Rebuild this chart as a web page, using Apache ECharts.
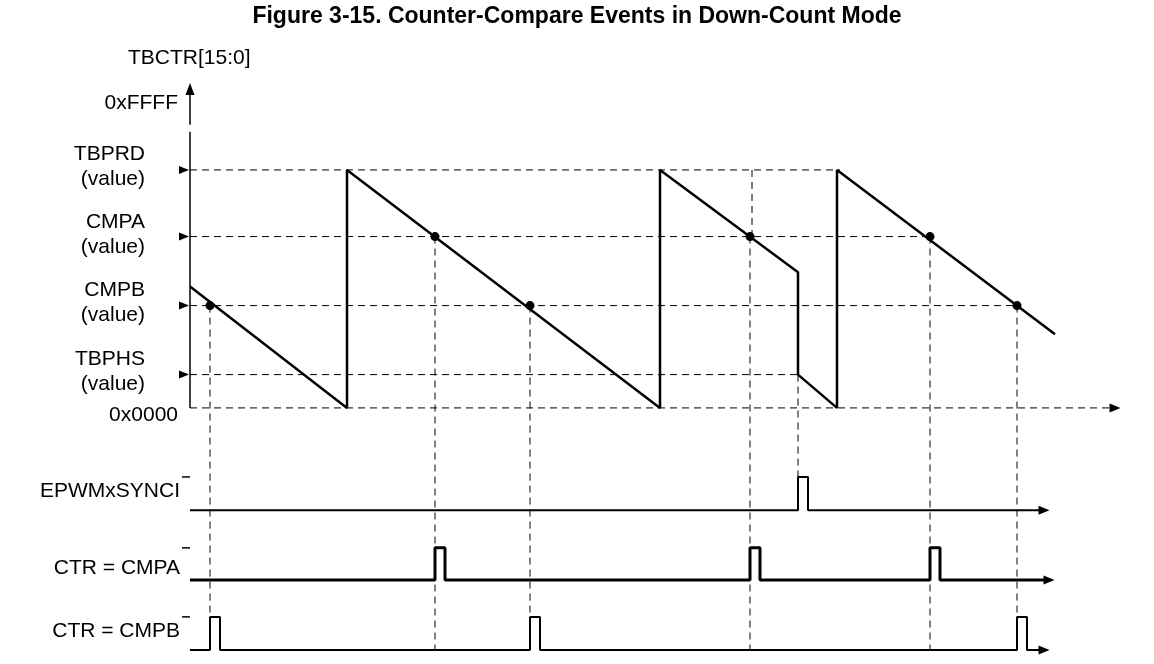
<!DOCTYPE html>
<html><head><meta charset="utf-8">
<script src="https://cdn.jsdelivr.net/npm/echarts@6/dist/echarts.min.js"></script>
<style>html,body{margin:0;background:#fff}#c{width:1154px;height:664px}</style>
</head><body><div id="c"></div>
<script>
// counter levels (TBPRD = 100)
var levelNames = ['TBPRD', 'CMPA', 'CMPB', 'TBPHS'];
var levelValues = [100, 72, 43, 14];
var levelEnds = [840, 930, 1017, 800];
// counter waveform [time, count]
var counter = [[190, 51], [347, 0], [347, 100], [660, 0], [660, 100], [798, 57], [798, 14], [837, 0], [837, 100], [1055, 31]];
// compare events
var cmpaTimes = [435, 750, 930];
var cmpbTimes = [210, 530, 1017];
var syncTimes = [798];
// pulse rows: base / high
var rowNames = ['EPWMxSYNCI', 'CTR = CMPA', 'CTR = CMPB'];
var rowBase = [-43, -72.3, -101.7];
var rowHigh = [-29, -58.8, -87.8];
var rowEnd = [1040, 1045, 1040];
var rowWidth = [2, 3, 2];
var pulseLen = 10;

function pulses(times, base, high, end) {
  var d = [[190, base]];
  times.forEach(function (t) { d.push([t, base], [t, high], [t + pulseLen, high], [t + pulseLen, base]); });
  d.push([end, base]);
  return d;
}
var series = [];
function line(data, w, dash) {
  series.push({ type: 'line', data: data, symbol: 'none', animation: false, silent: true,
    lineStyle: { color: '#000', width: w, opacity: 1, type: dash ? [7, 5] : 'solid' } });
}
function arrows(data, rot, size) {
  series.push({ type: 'scatter', data: data, symbol: 'triangle', symbolRotate: rot,
    symbolSize: size || [9, 11], itemStyle: { color: '#000', opacity: 1 }, animation: false, silent: true });
}
// dashed level lines
levelValues.forEach(function (v, i) { line([[190, v], [levelEnds[i], v]], 1, true); });
line([[190, 0], [1110, 0]], 1, true);
arrows([[1115, 0]], -90);
arrows(levelValues.map(function (v) { return [184, v]; }), -90, [8, 10]);
// vertical dashed guides
var guides = cmpaTimes.concat(cmpbTimes);
guides.forEach(function (t, i) {
  var top = i < 3 ? levelValues[1] : levelValues[2];
  line([[t, top], [t, -101.7]], 1, true);
});
line([[752, 100], [752, 72]], 1, true);
line([[798, 14], [798, -43]], 1, true);
// y axis with break
line([[190, 0], [190, 116]], 1.5, false);
line([[190, 119], [190, 132]], 1.5, false);
arrows([[190, 134]], 0, [9, 12]);
// counter waveform
line(counter, 2.5, false);
// pulse rows
[syncTimes, cmpaTimes, cmpbTimes].forEach(function (times, i) {
  line(pulses(times, rowBase[i], rowHigh[i], rowEnd[i]), rowWidth[i], false);
  line([[182, rowHigh[i]], [190, rowHigh[i]]], 1.5, false);
  arrows([[rowEnd[i] + 4, rowBase[i]]], -90);
});
// compare dots
var dots = cmpaTimes.map(function (t) { return [t, levelValues[1]]; })
  .concat(cmpbTimes.map(function (t) { return [t, levelValues[2]]; }));
series.push({ type: 'scatter', data: dots, symbolSize: 9, itemStyle: { color: '#000', opacity: 1 }, animation: false, silent: true });

var font = '"Liberation Sans", Arial, sans-serif';
var g = [
  { type: 'text', left: 'center', top: 5, style: { text: 'Figure 3-15. Counter-Compare Events in Down-Count Mode', font: 'bold 23px ' + font, fill: '#000' } },
  { type: 'text', x: 128, y: 48, style: { text: 'TBCTR[15:0]', font: '21px ' + font, fill: '#000' } },
  { type: 'text', x: 178, y: 93, style: { text: '0xFFFF', font: '21px ' + font, fill: '#000', align: 'right' } },
  { type: 'text', x: 178, y: 405, style: { text: '0x0000', font: '21px ' + font, fill: '#000', align: 'right' } }
];
var levelPx = [168, 236, 304, 373];
levelNames.forEach(function (n, i) {
  g.push({ type: 'text', x: 145, y: levelPx[i] - 26, style: { text: n + '\n(value)', font: '21px ' + font, fill: '#000', align: 'right', lineHeight: 25 } });
});
var rowPx = [493, 570, 633];
rowNames.forEach(function (n, i) {
  g.push({ type: 'text', x: 180, y: rowPx[i] - 12, style: { text: n, font: '21px ' + font, fill: '#000', align: 'right' } });
});

var chart = echarts.init(document.getElementById('c'));
chart.setOption({
  animation: false,
  grid: { left: 0, right: 0, top: 0, bottom: 0 },
  xAxis: { type: 'value', min: 0, max: 1154, show: false },
  yAxis: { type: 'value', min: -107.6, max: 171.4, show: false },
  graphic: g,
  series: series
});
</script></body></html>
